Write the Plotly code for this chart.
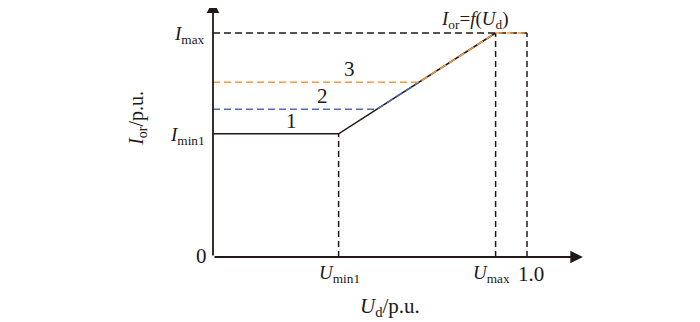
import plotly.graph_objects as go

# ---- data (per-unit values) ----
U_min1 = 0.4
U_max = 0.9
U_rated = 1.0
I_min1 = 0.55
I_2 = 0.66
I_3 = 0.78
I_max = 1.0
U_cross2 = 0.522   # where level 2 meets the ramp
U_cross3 = 0.656   # where level 3 meets the ramp

curve1_x = [0, U_min1, U_max]
curve1_y = [I_min1, I_min1, I_max]
curve2_x = [0, U_cross2, U_cross3]
curve2_y = [I_2, I_2, I_3]
curve3_x = [0, U_cross3, U_max, U_rated]
curve3_y = [I_3, I_3, I_max, I_max]
imax_x = [0, U_rated]
imax_y = [I_max, I_max]

x_axis_end = 1.178
y_axis_end = 1.145

FONT = "Liberation Serif"
BLACK = "#231815"
BLUE = "#4f6fb3"
ORANGE = "#f29a3f"

fig = go.Figure()

def line(xs, ys, color, dash="solid", width=1.6):
    fig.add_trace(go.Scatter(x=xs, y=ys, mode="lines",
                             line=dict(color=color, width=width, dash=dash),
                             hoverinfo="skip", showlegend=False))

# vertical dashed guides
line([U_min1, U_min1], [0, I_min1], BLACK, "6px,4px", 1.5)
line([U_max, U_max], [0, I_max], BLACK, "6px,4px", 1.5)
line([U_rated, U_rated], [0, I_max], BLACK, "6px,4px", 1.5)
# I_max dashed
line(imax_x, imax_y, BLACK, "7px,4px", 1.5)
# curve 1 (solid)
line(curve1_x, curve1_y, BLACK, "solid", 1.6)
# curve 2 (blue dashed)
line(curve2_x, curve2_y, BLUE, "7px,4px", 1.5)
# curve 3 (orange dashed)
line(curve3_x, curve3_y, ORANGE, "7px,4px", 1.5)

ann = []
# axes with arrows
ann.append(dict(x=x_axis_end, y=0, ax=0, ay=0, xref="x", yref="y", axref="x", ayref="y",
                text="", showarrow=True, arrowhead=2, arrowsize=1.4, arrowwidth=1.8,
                arrowcolor=BLACK))
ann.append(dict(x=0, y=y_axis_end, ax=0, ay=0, xref="x", yref="y", axref="x", ayref="y",
                text="", showarrow=True, arrowhead=2, arrowsize=1.4, arrowwidth=1.8,
                arrowcolor=BLACK))

def txt(x, y, s, xanchor="center", yanchor="middle", xshift=0, yshift=0, size=19, angle=0):
    ann.append(dict(x=x, y=y, xref="x", yref="y", text=s, showarrow=False,
                    xanchor=xanchor, yanchor=yanchor, xshift=xshift, yshift=yshift,
                    textangle=angle, font=dict(family=FONT, size=size, color=BLACK)))

txt(0, I_max, "<i>I</i><sub>max</sub>", xanchor="right", xshift=-6, yshift=-2)
txt(0, I_min1, "<i>I</i><sub>min1</sub>", xanchor="right", xshift=-6, yshift=-2)
txt(0, 0, "0", xanchor="right", xshift=-4, yshift=1, size=21)
txt(U_min1, 0, "<i>U</i><sub>min1</sub>", yanchor="top", xshift=1, yshift=-3)
txt(U_max, 0, "<i>U</i><sub>max</sub>", yanchor="top", xshift=-4, yshift=-3)
txt(U_rated, 0, "1.0", yanchor="top", xshift=4, yshift=-3, size=21)
txt(0.565, 0, "<i>U</i><sub>d</sub>/p.u.", yanchor="top", yshift=-35, size=21)
txt(0, I_min1, "<i>I</i><sub>or</sub>/p.u.", xshift=-75, yshift=15, angle=-90, size=20)
txt(U_rated, I_max, "<i>I</i><sub>or</sub>=<i>f</i>(<i>U</i><sub>d</sub>)",
    xanchor="right", yanchor="bottom", xshift=-17, yshift=-1)
txt(0.25, I_min1, "1", yanchor="bottom", size=21, yshift=-1)
txt(0.35, I_2, "2", yanchor="bottom", size=21, yshift=-1)
txt(0.435, I_3, "3", yanchor="bottom", size=21, yshift=-1)

# page body has an 8px margin: figure pixel p sits at screen pixel p + 8
fig.update_layout(
    width=692, height=314,
    margin=dict(l=0, r=0, t=0, b=0),
    paper_bgcolor="white", plot_bgcolor="white",
    xaxis=dict(range=[(8 - 213) / 314, (700 - 213) / 314], visible=False, fixedrange=True),
    yaxis=dict(range=[(257 - 322) / 224, (257 - 8) / 224], visible=False, fixedrange=True),
    annotations=ann,
    showlegend=False,
)

fig.write_html("out.html")
